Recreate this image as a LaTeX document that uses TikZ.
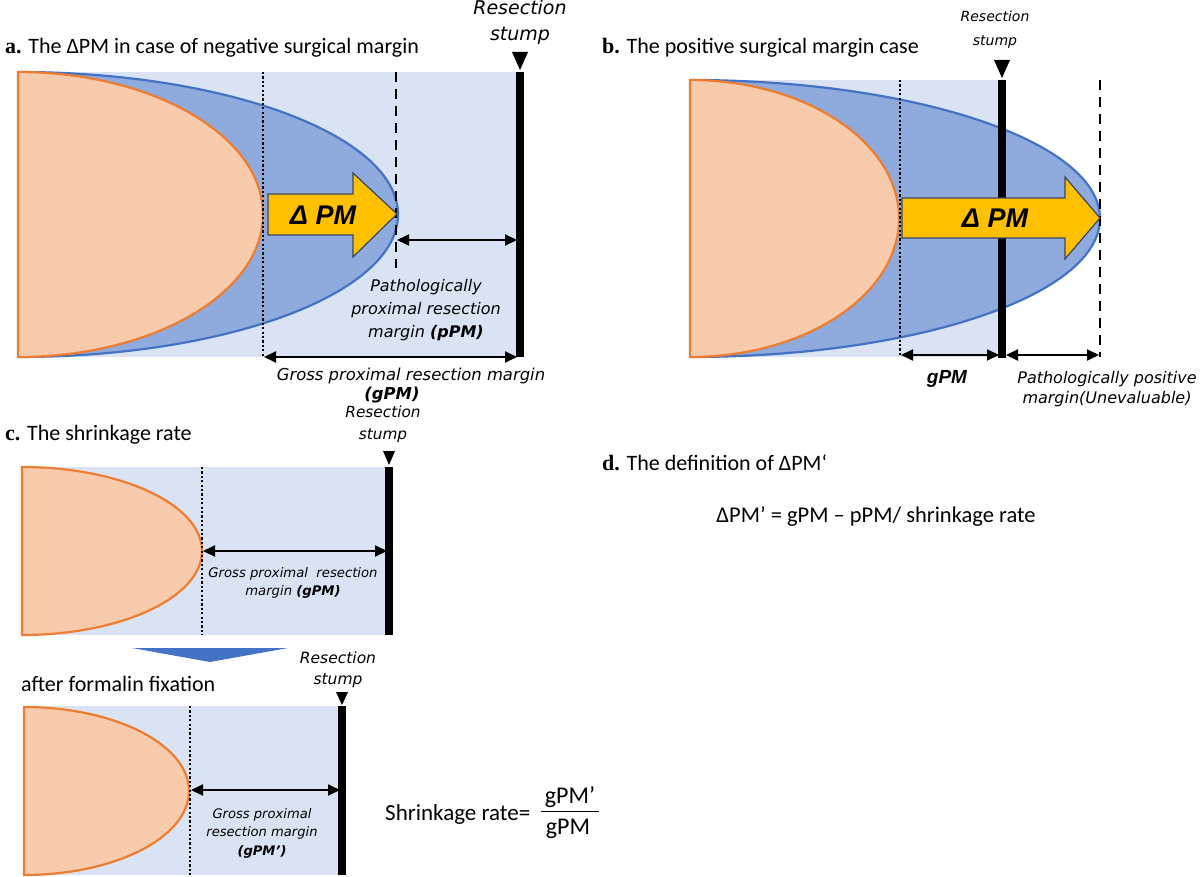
\documentclass[tikz,border=0pt]{standalone}
\usepackage{fontspec}
\setmainfont{Carlito}
\newfontfamily\lab{DejaVu Sans}
\newfontfamily\serifb{Liberation Serif}
\newfontfamily\arw{Liberation Sans}
\usetikzlibrary{arrows.meta}
\definecolor{lblue}{HTML}{DAE3F3}
\definecolor{mblue}{HTML}{8FAADC}
\definecolor{bline}{HTML}{4472C4}
\definecolor{ofill}{HTML}{F8CBAD}
\definecolor{oline}{HTML}{ED7D31}
\definecolor{yarrow}{HTML}{FFC000}
\definecolor{yedge}{HTML}{3B4660}
\tikzset{
  bg/.style={fill=lblue, draw=none},
  tumor/.style={fill=ofill, draw=oline, line width=2.2},
  spread/.style={fill=mblue, draw=bline, line width=2.2},
  stumpline/.style={line width=7.5, line cap=butt},
  dottedline/.style={line width=2.4, dash pattern=on 2.2 off 2.2},
  dashedline/.style={line width=2.6, dash pattern=on 10 off 7},
  dim/.style={line width=2, {Triangle[length=12,width=11]}-{Triangle[length=12,width=11]}},
  marker/.style={fill=black, draw=none},
  ttl/.style={anchor=base west, inner sep=0, font=\fontsize{22}{26}\selectfont},
  itl/.style 2 args={align=center, inner sep=0, font=\lab\itshape\fontsize{#1}{#2}\selectfont},
  big/.style={anchor=base west, inner sep=0, font=\fontsize{22}{26}\selectfont},
  dpm/.style={inner sep=0, font=\arw\bfseries\itshape\fontsize{27}{30}\selectfont},
  yarr/.style={fill=yarrow, draw=yedge, line width=1.2, line join=miter},
  frac/.style={inner sep=0, font=\fontsize{24}{28}\selectfont},
}
\begin{document}
\begin{tikzpicture}[x=1pt, y=-1pt]
\useasboundingbox (0,0) rectangle (1200,877);
\fill[white] (0,0) rectangle (1200,877);

% ================= panel a =================
\node[ttl] (ta) at (5,54) {{\serifb\bfseries a.} The ΔPM in case of negative surgical margin};
\fill[bg] (18,72) rectangle (519,357);
\draw[spread] (18,72) arc[start angle=-90, end angle=90, x radius=380, y radius=142.5];
\draw[tumor] (18,72) arc[start angle=-90, end angle=90, x radius=245, y radius=142.5] -- cycle;
\coordinate (aDotT) at (263,72);
\coordinate (aDotB) at (263,357);
\draw[dottedline] (aDotT) -- (aDotB);
\coordinate (aDashT) at (396,72);
\coordinate (aDashB) at (396,268);
\draw[dashedline] (aDashT) -- (aDashB);
\coordinate (aStT) at (520,72);
\coordinate (aStB) at (520,357);
\draw[stumpline] (aStT) -- (aStB);
\fill[marker] (512,52) -- (528,52) -- (520,70) -- cycle;
\node[itl={19}{26}] (aRes) at (520,22) {Resection\\stump};
\draw[yarr] (268,194) -- (353,194) -- (353,173) -- (397,214) -- (353,257) -- (353,235) -- (268,235) -- cycle;
\node[dpm] (aDPM) at (323,215) {Δ PM};
\coordinate (aP1) at (397,240);
\coordinate (aP2) at (517,240);
\draw[dim] (aP1) -- (aP2);
\node[itl={16}{23}] (aPPM) at (426,310) {Pathologically\\proximal resection\\margin {\bfseries(pPM)}};
\coordinate (aG1) at (264,357);
\coordinate (aG2) at (517,357);
\draw[dim] (aG1) -- (aG2);
\node[itl={16.4}{19}] (aGPM) at (411,376) {Gross proximal resection margin};
\node[itl={16.4}{19}] (aGPM2) at (392,395) {\bfseries(gPM)};

% ================= panel b =================
\node[ttl] (tb) at (602,54) {{\serifb\bfseries b.} The positive surgical margin case};
\fill[bg] (690,80) rectangle (1001,357);
\draw[spread] (690,80) arc[start angle=-90, end angle=90, x radius=410, y radius=138.5];
\draw[tumor] (690,80) arc[start angle=-90, end angle=90, x radius=209, y radius=138.5] -- cycle;
\coordinate (bDotT) at (900,80);
\coordinate (bDotB) at (900,357);
\draw[dottedline] (bDotT) -- (bDotB);
\coordinate (bDashT) at (1100,80);
\coordinate (bDashB) at (1100,357);
\draw[dashedline] (bDashT) -- (bDashB);
\coordinate (bStT) at (1002,80);
\coordinate (bStB) at (1002,358);
\draw[stumpline] (bStT) -- (bStB);
\draw[yarr] (902,198) -- (1065,198) -- (1065,177) -- (1100,218) -- (1065,259) -- (1065,238) -- (902,238) -- cycle;
\fill[marker] (994,60) -- (1010,60) -- (1002,78) -- cycle;
\node[itl={14}{24}] (bRes) at (995,30) {Resection\\stump};
\node[dpm] (bDPM) at (995,218) {Δ PM};
\coordinate (bG1) at (901,355);
\coordinate (bG2) at (999,355);
\draw[dim] (bG1) -- (bG2);
\node[inner sep=0, font=\arw\bfseries\itshape\fontsize{19}{22}\selectfont] (bGPM) at (947,379) {gPM};
\coordinate (bP1) at (1006,355);
\coordinate (bP2) at (1099,355);
\draw[dim] (bP1) -- (bP2);
\node[itl={16}{20}] (bPos) at (1107,389) {Pathologically positive\\margin(Unevaluable)};

% ================= panel c =================
\node[ttl] (tc) at (5,440) {{\serifb\bfseries c.} The shrinkage rate};
\fill[bg] (21,467) rectangle (389,635);
\draw[tumor] (22,467) arc[start angle=-90, end angle=90, x radius=180, y radius=84] -- cycle;
\coordinate (cDotT) at (202,467);
\coordinate (cDotB) at (202,635);
\draw[dottedline] (cDotT) -- (cDotB);
\coordinate (cStT) at (389,467);
\coordinate (cStB) at (389,635);
\draw[stumpline] (cStT) -- (cStB);
\fill[marker] (383,451) -- (395,451) -- (389,465) -- cycle;
\node[itl={15.3}{22}] (cRes) at (383,424) {Resection\\stump};
\coordinate (cG1) at (203,551);
\coordinate (cG2) at (387,551);
\draw[dim] (cG1) -- (cG2);
\node[itl={13.2}{18}] (cGPM) at (293,583) {Gross proximal\ \ resection\\margin {\bfseries(gPM)}};

\fill[bline] (132,648) -- (288,648) -- (210,662) -- cycle;
\node[big] (after) at (21,691) {after formalin fixation};

\fill[bg] (23,706) rectangle (343,875);
\draw[tumor] (24,707) arc[start angle=-90, end angle=90, x radius=165, y radius=84] -- cycle;
\coordinate (c2DotT) at (190,706);
\coordinate (c2DotB) at (190,875);
\draw[dottedline] (c2DotT) -- (c2DotB);
\coordinate (c2StT) at (342,706);
\coordinate (c2StB) at (342,875);
\draw[stumpline] (c2StT) -- (c2StB);
\fill[marker] (336,692) -- (348,692) -- (342,705) -- cycle;
\node[itl={15.5}{21}] (c2Res) at (338,670) {Resection\\stump};
\coordinate (c2G1) at (191,790);
\coordinate (c2G2) at (340,790);
\draw[dim] (c2G1) -- (c2G2);
\node[itl={13.1}{18.5}] (c2GPM) at (262,833) {Gross proximal\\resection margin\\{\bfseries(gPM’)}};

\node[anchor=base west, inner sep=0, font=\fontsize{23}{28}\selectfont] (shr) at (385,820) {Shrinkage rate=};
\node[frac] (num) at (570,797) {gPM’};
\node[frac] (den) at (568,829) {gPM};
\draw[line width=1] (541,811) -- (599,811);

% ================= panel d =================
\node[ttl] (td) at (602,470) {{\serifb\bfseries d.} The definition of ΔPM‘};
\node[inner sep=0, font=\fontsize{22.5}{26}\selectfont] (form) at (876,517) {ΔPM’ = gPM – pPM/ shrinkage rate};
\end{tikzpicture}
\end{document}
